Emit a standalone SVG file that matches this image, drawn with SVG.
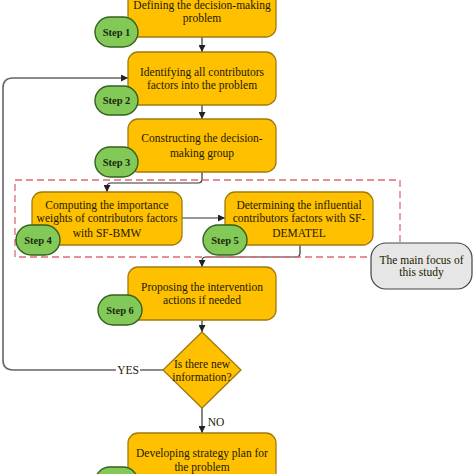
<svg xmlns="http://www.w3.org/2000/svg" width="474" height="474" viewBox="0 0 474 474">
<style>
.box{fill:#FFC000;stroke:#A07A10;stroke-width:1.3}
.step{fill:#82C957;stroke:#35601E;stroke-width:1.4}
.t{font-family:"Liberation Serif","Times New Roman",serif;font-size:11.5px;fill:#221a00;text-anchor:middle}
.st{font-family:"Liberation Serif","Times New Roman",serif;font-size:10.5px;font-weight:bold;fill:#1a2a10;text-anchor:middle}
.c{fill:none;stroke:#333;stroke-width:1.2}
.loop{fill:none;stroke:#666;stroke-width:1.6}
</style>
<defs>
<marker id="ah" viewBox="0 0 10 10" refX="10" refY="5" markerWidth="7" markerHeight="7" markerUnits="userSpaceOnUse" orient="auto">
<path d="M0,0 L10,5 L0,10 z" fill="#222"/>
</marker>
</defs>
<rect width="474" height="474" fill="#fff"/>
<g id="connectors">
<path class="c" d="M202,37 V52" marker-end="url(#ah)"/>
<path class="c" d="M202,105 V119" marker-end="url(#ah)"/>
<path class="c" d="M202,172 V179 Q202,183 198,183 H111 Q107,183 107,187 V192" marker-end="url(#ah)"/>
<path class="c" d="M182,218 H225" marker-end="url(#ah)"/>
<path class="c" d="M300,245 V253 Q300,257 296,257 H206 Q202,257 202,261 V267" marker-end="url(#ah)"/>
<path class="c" d="M202,320 V332" marker-end="url(#ah)"/>
<path class="c" d="M202,408 V433" marker-end="url(#ah)"/>
<path class="loop" d="M163,370 H13 Q3,370 3,360 V88 Q3,78 13,78 H128" marker-end="url(#ah)"/>
<rect x="116" y="363" width="24" height="14" fill="#fff"/>
<text class="t" x="128" y="374">YES</text>
<text class="t" x="216" y="426">NO</text>
</g>
<rect id="focus-region" x="15" y="180" width="385" height="77" fill="none" stroke="#E06A78" stroke-width="1.3" stroke-dasharray="7 4"/>
<g id="n1">
<rect class="box" x="128" y="-12" width="148" height="49" rx="10"/>
<text class="t" x="202" y="9">Defining the decision-making</text>
<text class="t" x="202" y="22">problem</text>
<rect class="step" x="95" y="17" width="43" height="30" rx="15"/>
<text class="st" x="116.5" y="36">Step 1</text>
</g>
<g id="n2">
<rect class="box" x="128" y="52" width="148" height="53" rx="10"/>
<text class="t" x="202" y="76">Identifying all contributors</text>
<text class="t" x="202" y="89">factors into the problem</text>
<rect class="step" x="95" y="86" width="43" height="29" rx="14.5"/>
<text class="st" x="116.5" y="104">Step 2</text>
</g>
<g id="n3">
<rect class="box" x="128" y="119" width="148" height="53" rx="10"/>
<text class="t" x="202" y="142">Constructing the decision-</text>
<text class="t" x="202" y="157">making group</text>
<rect class="step" x="95" y="147" width="43" height="30" rx="15"/>
<text class="st" x="116.5" y="166">Step 3</text>
</g>
<g id="n4">
<rect class="box" x="32" y="192" width="150" height="53" rx="10"/>
<text class="t" x="107" y="209">Computing the importance</text>
<text class="t" x="107" y="222">weights of contributors factors</text>
<text class="t" x="107" y="237">with SF-BMW</text>
<rect class="step" x="16" y="225" width="44" height="30" rx="15"/>
<text class="st" x="38" y="244">Step 4</text>
</g>
<g id="n5">
<rect class="box" x="225" y="192" width="148" height="53" rx="10"/>
<text class="t" x="299" y="209">Determining the influential</text>
<text class="t" x="299" y="222">contributors factors with SF-</text>
<text class="t" x="299" y="237">DEMATEL</text>
<rect class="step" x="203" y="225" width="44" height="30" rx="15"/>
<text class="st" x="225" y="244">Step 5</text>
</g>
<g id="focus">
<rect x="371" y="243" width="101" height="46" rx="15" fill="#E6E6E6" stroke="#444" stroke-width="1.2"/>
<text class="t" x="421.5" y="264">The main focus of</text>
<text class="t" x="421.5" y="276">this study</text>
</g>
<g id="n6">
<rect class="box" x="128" y="267" width="148" height="53" rx="10"/>
<text class="t" x="202" y="291">Proposing the intervention</text>
<text class="t" x="202" y="304">actions if needed</text>
<rect class="step" x="98" y="295" width="44" height="30" rx="15"/>
<text class="st" x="120" y="314">Step 6</text>
</g>
<g id="decision">
<path class="box" d="M202,332 L241,370 L202,408 L163,370 z"/>
<text class="t" x="202" y="368">Is there new</text>
<text class="t" x="202" y="381">information?</text>
</g>
<g id="n7">
<rect class="box" x="128" y="433" width="148" height="57" rx="10"/>
<text class="t" x="202" y="457">Developing strategy plan for</text>
<text class="t" x="202" y="471">the problem</text>
<rect class="step" x="95" y="467" width="43" height="30" rx="15"/>
</g>
</svg>
